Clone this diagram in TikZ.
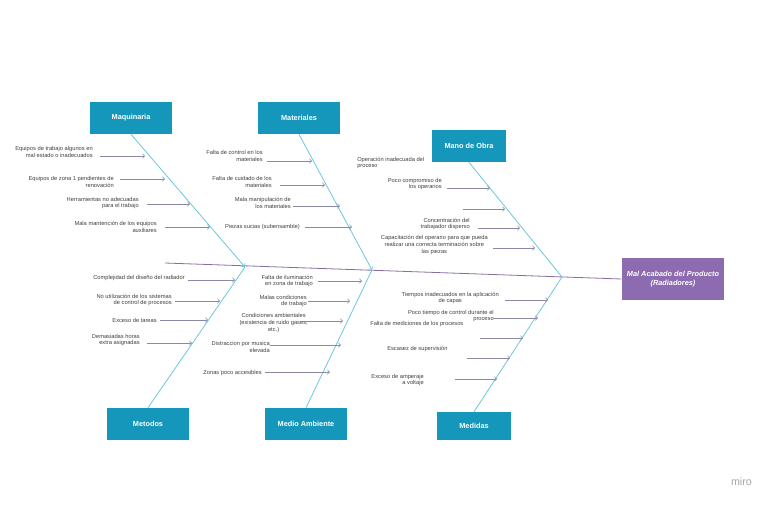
\documentclass[tikz,border=0pt]{standalone}
\usepackage{fontspec}
\setmainfont{Liberation Sans}
\begin{document}
\begin{tikzpicture}[x=0.75pt,y=-0.75pt,
 cat/.style={fill=boxc,text=white,font=\bfseries\fontsize{5.5}{6}\selectfont,minimum width=61.5pt,minimum height=24pt,inner sep=0pt},
 bone/.style={draw=bonec,line width=0.6pt},
 cause/.style={draw=arrc,line width=0.5pt,->},
 lbl/.style={font=\fontsize{4.3}{5}\selectfont,text=black!75,align=right,anchor=east,inner sep=0pt},
 lbll/.style={font=\fontsize{4.3}{5}\selectfont,text=black!75,align=left,anchor=west,inner sep=0pt}]
\definecolor{boxc}{HTML}{1497BA}
\definecolor{bonec}{HTML}{6CC8DE}
\definecolor{arrc}{HTML}{8A8AA8}
\definecolor{headc}{HTML}{8C6BB1}
\useasboundingbox (0,0) rectangle (768,504);
\fill[white] (0,0) rectangle (768,504);
% head and spine
\node[fill=headc,text=white,font=\bfseries\itshape\fontsize{5.5}{6.5}\selectfont,align=center,minimum width=77pt,minimum height=31pt,inner sep=0pt] (head) at (673,279) {Mal Acabado del Producto\\(Radiadores)};
\coordinate (s0) at (165,263);
\draw[draw=arrc!80!violet,line width=0.6pt] (s0) -- (head.west);
% categories
\node[cat] (maq) at (131,118) {Maquinaria};
\node[cat] (met) at (148,424) {Metodos};
\node[cat] (mat) at (299,118) {Materiales};
\node[cat] (med) at (306,424) {Medio Ambiente};
\node[cat,minimum width=56pt] (mo) at (469,146) {Mano de Obra};
\node[cat,minimum width=56pt,minimum height=21pt] (mds) at (474,426) {Medidas};
\coordinate (j1) at (245,267);
\coordinate (j2) at (372,270);
\coordinate (j3) at (562,277);
\draw[bone,->] (maq.south) -- (j1);
\draw[bone] (met.north) -- (j1);
\draw[bone,->] (mat.south) -- (j2);
\draw[bone] (med.north) -- (j2);
\draw[bone] (mo.south) -- (j3);
\draw[bone] (mds.north) -- (j3);
% Maquinaria causes
\node[lbl] (a1) at (93,152) {Equipos de trabajo algunos en\\mal estado o inadecuados};
\draw[cause] (100,156) -- (145,156);
\node[lbl] (a2) at (114,182) {Equipos de zona 1 pendientes de\\renovación};
\draw[cause] (120,179) -- (165,179);
\node[lbl] (a3) at (139,203) {Herramientas no adecuadas\\para el trabajo};
\draw[cause] (147,204) -- (190,204);
\node[lbl] (a4) at (157,227) {Mala mantención de los equipos\\auxiliares};
\draw[cause] (165,227) -- (210,227);
% Metodos
\node[lbl] (b1) at (185,278) {Complejidad del diseño del radiador};
\draw[cause] (188,280) -- (235,280);
\node[lbl] (b2) at (172,300) {No utilización de los sistemas\\de control de procesos};
\draw[cause] (175,301) -- (220,301);
\node[lbl] (b3) at (157,320) {Exceso de tareas};
\draw[cause] (160,320) -- (208,320);
\node[lbl] (b4) at (140,340) {Demasiadas horas\\extra asignadas};
\draw[cause] (147,343) -- (192,343);
% Materiales
\node[lbl] (c1) at (263,156) {Falta de control en los\\materiales};
\draw[cause] (267,161) -- (312,161);
\node[lbl] (c2) at (272,182) {Falta de cuidado de los\\materiales};
\draw[cause] (280,185) -- (325,185);
\node[lbl] (c3) at (291,203) {Mala manipulación de\\los materiales};
\draw[cause] (293,206) -- (340,206);
\node[lbl] (c4) at (300,227) {Piezas sucias (subensamble)};
\draw[cause] (305,227) -- (352,227);
% Medio ambiente
\node[lbl] (d1) at (313,281) {Falta de iluminación\\en zona de trabajo};
\draw[cause] (318,281) -- (362,281);
\node[lbl] (d2) at (307,301) {Malas condiciones\\de trabajo};
\draw[cause] (308,301) -- (350,301);
\node[lbl,align=center] (d3) at (308,323) {Condiciones ambientales\\(existencia de ruido gases,\\etc.)};
\draw[cause] (300,321) -- (343,321);
\node[lbl] (d4) at (270,347) {Distraccion por musica\\elevada};
\draw[cause] (270,345) -- (341,345);
\node[lbl] (d5) at (262,373) {Zonas poco accesibles};
\draw[cause] (265,372) -- (330,372);
% Mano de obra
\node[lbll] (e0) at (357,163) {Operación inadecuada del\\proceso};
\node[lbl] (e1) at (442,184) {Poco compromiso de\\los operarios};
\draw[cause] (447,188) -- (490,188);
\draw[cause] (463,209) -- (505,209);
\node[lbl] (e2) at (470,224) {Concentración del\\trabajador disperso};
\draw[cause] (478,228) -- (520,228);
\node[lbl,align=center] (e3) at (488,245) {Capacitación del operario para que pueda\\realizar una correcta terminación sobre\\las piezas};
\draw[cause] (493,248) -- (535,248);
% Medidas
\node[lbl,align=center] (f1) at (499,298) {Tiempos inadecuados en la aplicación\\de capas};
\draw[cause] (505,300) -- (548,300);
\node[lbl] (f2) at (494,316) {Poco tiempo de control durante el\\proceso};
\draw[cause] (493,318) -- (538,318);
\node[lbll] (f3) at (370,324) {Falta de mediciones de los procesos};
\draw[cause] (480,338) -- (523,338);
\node[lbll] (f4) at (387,349) {Escasez de supervisión};
\draw[cause] (467,358) -- (510,358);
\node[lbl] (f5) at (424,380) {Exceso de amperaje\\a voltaje};
\draw[cause] (455,379) -- (497,379);
\node[font=\fontsize{8}{8}\selectfont,text=black!35,anchor=east,inner sep=0pt] (logo) at (752,482) {miro};
\end{tikzpicture}
\end{document}
